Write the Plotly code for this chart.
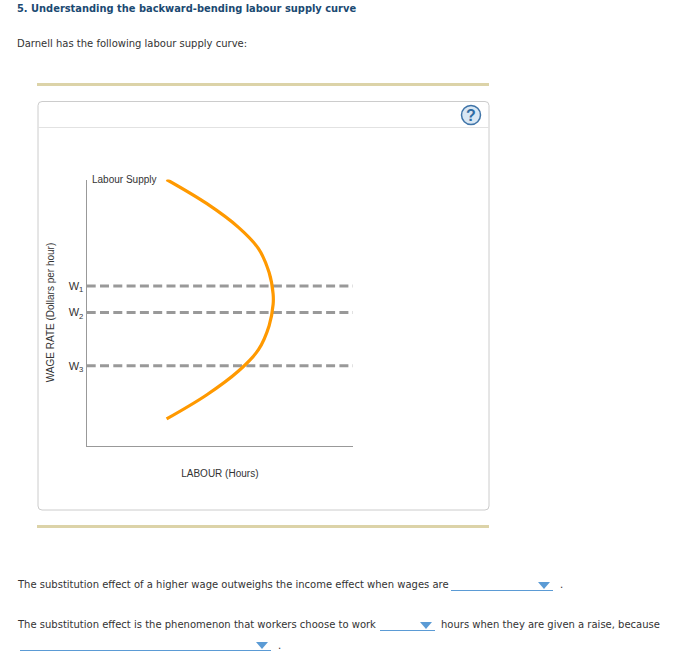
import plotly.graph_objects as go

# curva de oferta de trabalho (horas, salario), eixos 0-100
horas = [30, 45, 57, 64.5, 68.5, 70, 70, 68.5, 64.5, 57, 45, 30]
salario = [100, 91, 82, 74, 65, 57, 53, 45, 36, 28, 19, 10]

nomes_w = ["W<sub>1</sub>", "W<sub>2</sub>", "W<sub>3</sub>"]
valores_w = [60, 50, 30]

LARGURA = 692
ALTURA = 667
AZUL = "#5b9bd5"


def px(x):
    return x / LARGURA


def py(y):
    return 1 - y / ALTURA


fig = go.Figure()

for w in valores_w:
    fig.add_trace(go.Scatter(
        x=[0, 100], y=[w, w], mode="lines",
        line=dict(color="#999999", width=3, dash="9px,4.3px"),
        hoverinfo="skip", showlegend=False
    ))

fig.add_trace(go.Scatter(
    x=horas, y=salario, mode="lines",
    line=dict(color="#ff9900", width=3.2, shape="spline", smoothing=1),
    showlegend=False
))

shapes = []


def linha(x0, y0, x1, y1, cor, largura):
    shapes.append(dict(type="line", xref="paper", yref="paper", layer="below",
                       x0=px(x0), y0=py(y0), x1=px(x1), y1=py(y1),
                       line=dict(color=cor, width=largura)))


def seta(x, y):
    # triangulo do dropdown
    caminho = f"M {px(x - 6)} {py(y - 3)} L {px(x + 6)} {py(y - 3)} L {px(x)} {py(y + 4)} Z"
    shapes.append(dict(type="path", xref="paper", yref="paper", path=caminho,
                       fillcolor=AZUL, line=dict(width=0)))


# caixa do grafico com cantos arredondados
r = 4
x0, x1, y0, y1 = 38, 489, 101.5, 510
caixa = (
    f"M {px(x0 + r)} {py(y0)} L {px(x1 - r)} {py(y0)} "
    f"Q {px(x1)} {py(y0)} {px(x1)} {py(y0 + r)} L {px(x1)} {py(y1 - r)} "
    f"Q {px(x1)} {py(y1)} {px(x1 - r)} {py(y1)} L {px(x0 + r)} {py(y1)} "
    f"Q {px(x0)} {py(y1)} {px(x0)} {py(y1 - r)} L {px(x0)} {py(y0 + r)} "
    f"Q {px(x0)} {py(y0)} {px(x0 + r)} {py(y0)} Z"
)
shapes.append(dict(type="path", xref="paper", yref="paper", path=caixa, layer="below",
                   line=dict(color="#cccccc", width=1)))
linha(38, 127.5, 489, 127.5, "#e2e2e2", 1)
linha(37, 84.5, 489, 84.5, "#dcd3a8", 3)
linha(37, 526.5, 489, 526.5, "#dcd3a8", 3)

# botao de ajuda
shapes.append(dict(type="circle", xref="paper", yref="paper",
                   x0=px(461.5), x1=px(480.5), y0=py(105.5), y1=py(124.5),
                   fillcolor="#d9e7f3", line=dict(color="#3f74a8", width=1.5)))

# dropdowns
linha(451, 590.5, 553, 590.5, AZUL, 1)
seta(544, 585)
linha(380, 630.5, 435, 630.5, AZUL, 1)
seta(426, 625)
linha(20, 650.5, 271, 650.5, AZUL, 1)
seta(262, 645)

textos = [
    (17, 8.5, "<b>5. Understanding the backward-bending labour supply curve</b>", "#1b4a72", 9.9),
    (17, 44, "Darnell has the following labour supply curve:", "#333333", 10),
    (17, 584.5, "The substitution effect of a higher wage outweighs the income effect when wages are", "#333333", 10),
    (17, 624.5, "The substitution effect is the phenomenon that workers choose to work", "#333333", 10),
    (441.5, 624.5, "hours when they are given a raise, because", "#333333", 10),
    (560, 584.5, ".", "#333333", 10),
    (278.5, 645, ".", "#333333", 10),
]
anotacoes = [
    dict(x=px(xt - 2.5), y=py(yt), xref="paper", yref="paper", text=t, showarrow=False,
         xanchor="left", yanchor="middle", font=dict(family="DejaVu Sans", size=tam, color=cor))
    for xt, yt, t, cor, tam in textos
]
anotacoes.append(dict(x=px(471), y=py(115), xref="paper", yref="paper", text="<b>?</b>", showarrow=False,
                      xanchor="center", yanchor="middle",
                      font=dict(family="Liberation Sans", size=16, color="#2f6ca3")))
anotacoes.append(dict(x=1.4, y=100, xref="x", yref="y", text="Labour Supply", showarrow=False,
                      xanchor="left", yanchor="middle",
                      font=dict(family="Liberation Sans", size=10, color="#333333")))

fig.update_layout(
    width=LARGURA, height=ALTURA,
    margin=dict(l=0, r=0, t=0, b=0),
    paper_bgcolor="white", plot_bgcolor="white",
    shapes=shapes, annotations=anotacoes,
    showlegend=False,
    font=dict(family="Liberation Sans", size=10, color="#333333"),
    xaxis=dict(
        domain=[px(86.7), px(353)], range=[0, 100],
        showgrid=False, zeroline=False, showticklabels=False, ticks="",
        showline=True, linecolor="#999999", linewidth=1.2,
        title=dict(text="LABOUR (Hours)", standoff=24, font=dict(size=10)),
    ),
    yaxis=dict(
        domain=[py(445.5), py(179.5)], range=[0, 100],
        showgrid=False, zeroline=False, ticks="",
        tickmode="array", tickvals=valores_w, ticktext=nomes_w,
        tickfont=dict(size=11), ticklabelstandoff=0,
        showline=True, linecolor="#999999", linewidth=1.2,
        title=dict(text="WAGE RATE (Dollars per hour)", standoff=12, font=dict(size=10)),
    ),
)

fig.write_html("out.html", config=dict(displayModeBar=False),
               post_script="document.body.style.margin='0';")
